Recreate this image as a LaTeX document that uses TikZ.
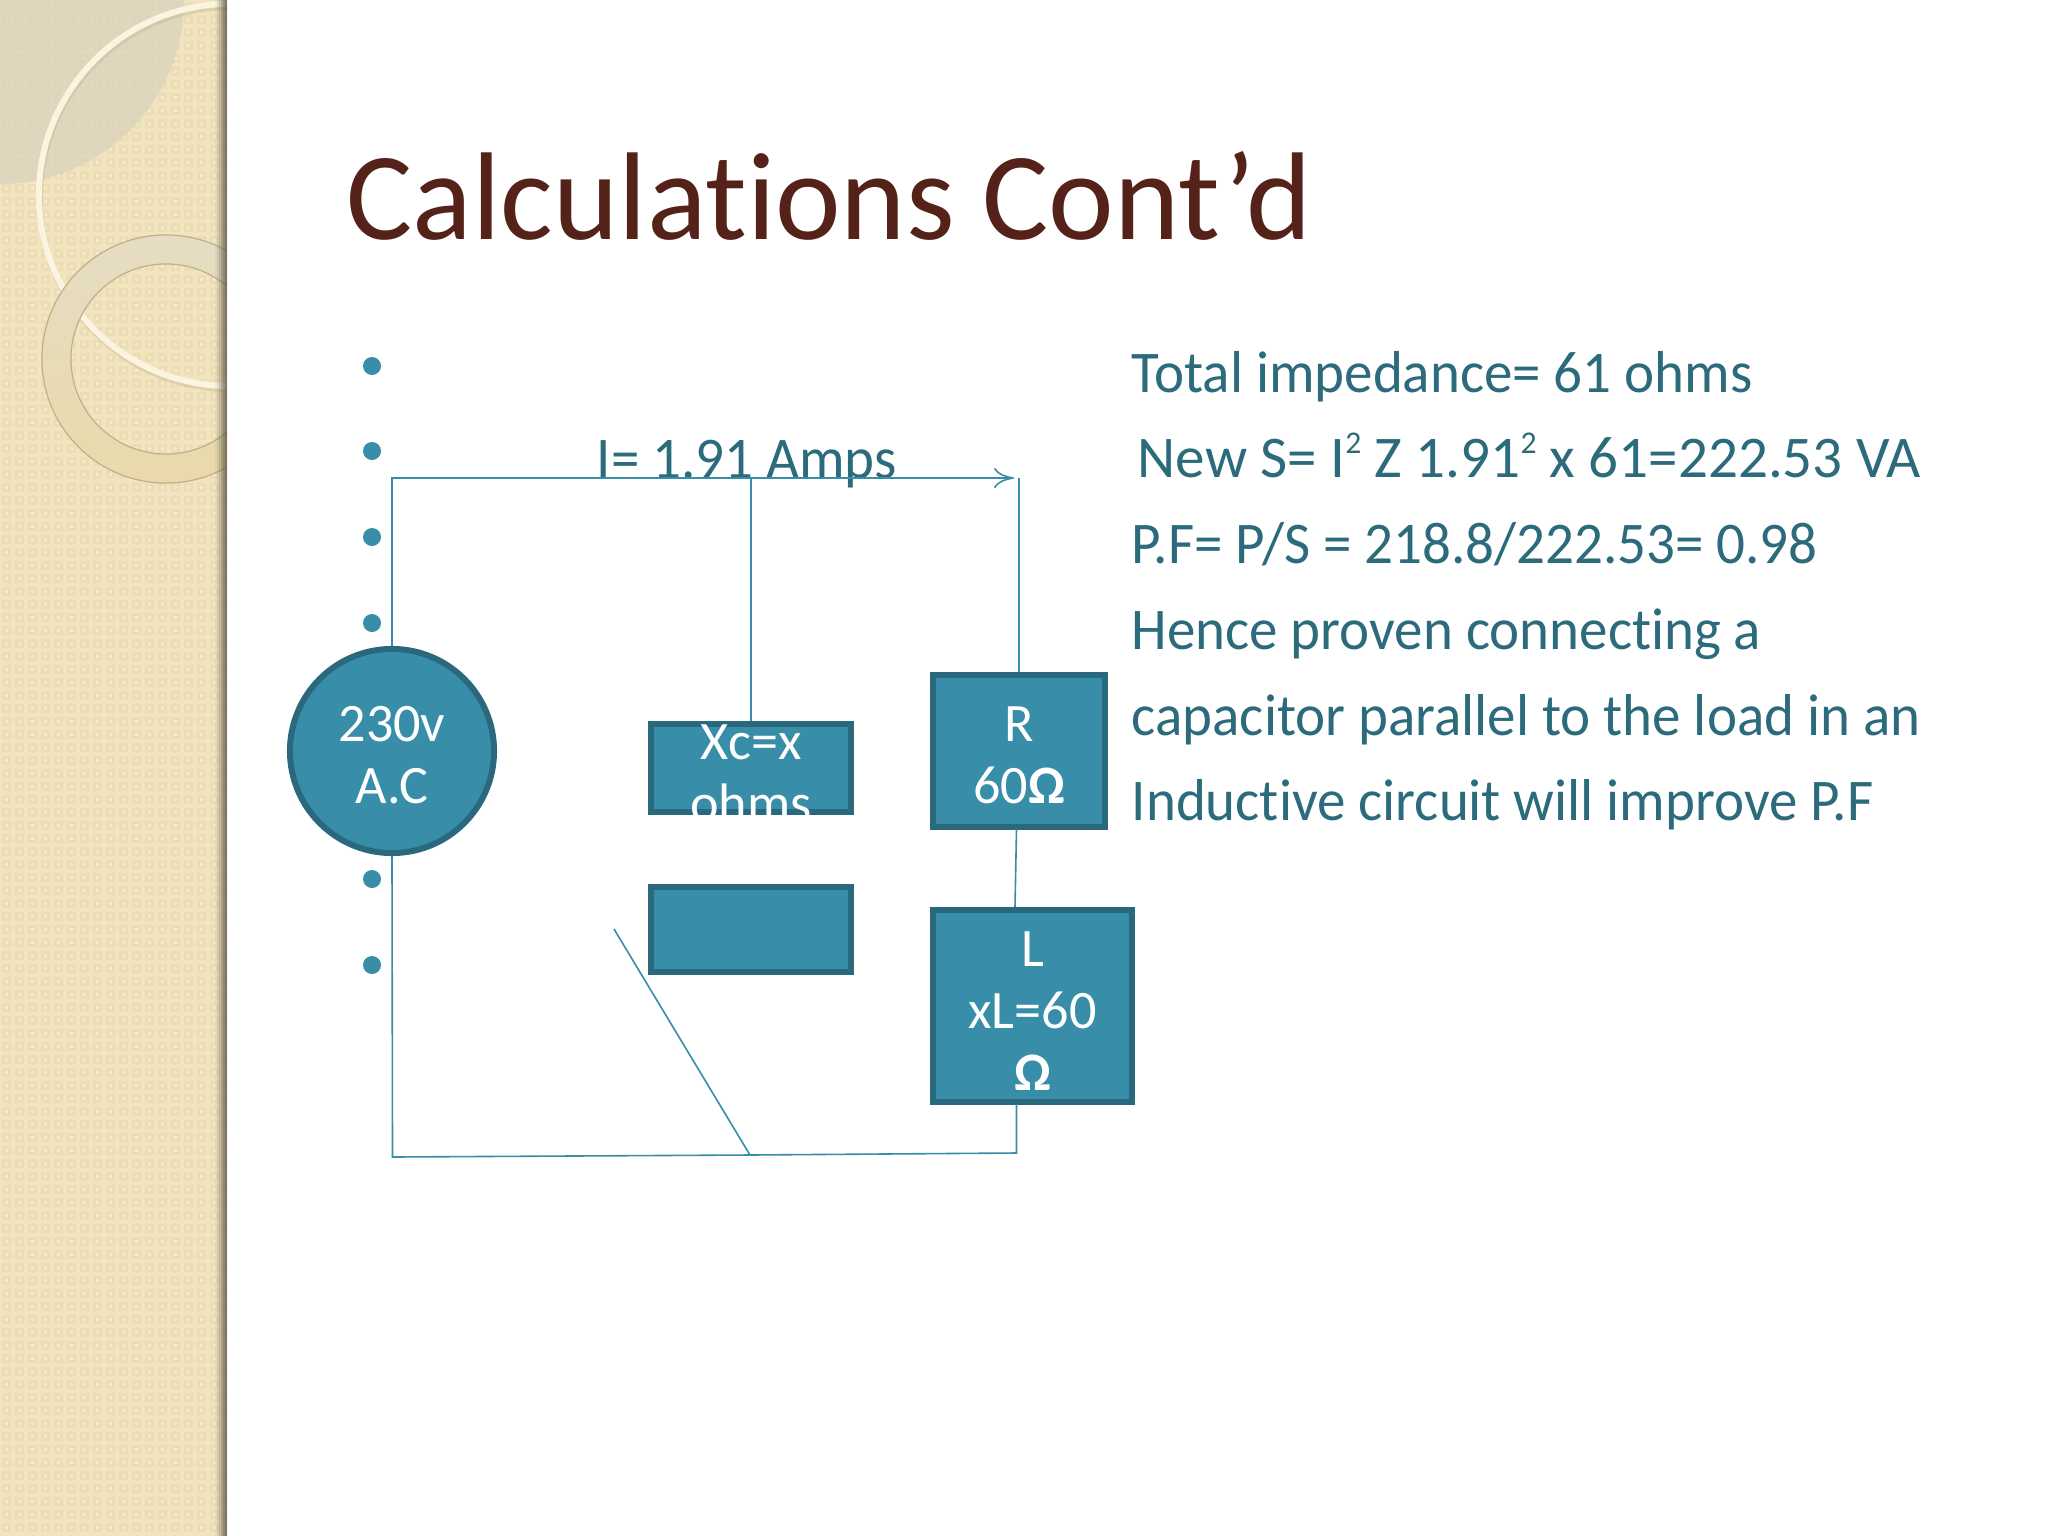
\documentclass[tikz,border=0pt]{standalone}
\usepackage{fontspec}
\usepackage{xcolor}
\setmainfont[Ligatures=NoCommon]{Carlito}
\newfontfamily\titlefont[Ligatures=NoCommon, FakeStretch=0.995]{Carlito}
\newfontfamily\bodyfont[Ligatures=NoCommon, FakeStretch=0.965]{Carlito}
\usetikzlibrary{positioning,arrows.meta}

\definecolor{panelbg}{RGB}{241,228,190}
\definecolor{paneltile}{RGB}{236,222,180}
\definecolor{paneldot}{RGB}{245,234,203}
\definecolor{ringcol}{RGB}{229,220,195}
\definecolor{ringlow}{RGB}{234,218,170}
\definecolor{ringedge}{RGB}{190,176,138}
\definecolor{hoopcol}{RGB}{251,244,224}
\definecolor{discol}{RGB}{218,211,190}
\definecolor{titlecol}{RGB}{84,34,24}
\definecolor{bodycol}{RGB}{44,107,124}
\definecolor{boxfill}{RGB}{56,142,168}
\definecolor{boxedge}{RGB}{42,104,126}

\newcommand{\sqr}{\raisebox{0.4em}{\fontsize{9}{9}\selectfont 2}}
\newcommand{\lift}{\rule{0pt}{0.44cm}}

\begin{document}
\begin{tikzpicture}[x=0.01cm, y=-0.01cm, node distance=0.7cm,
        box/.style={draw=boxedge, fill=boxfill, rectangle, line width=0.06cm, text=white, align=center, inner sep=0pt, font=\fontsize{15.4}{17.6}\selectfont},
        source/.style={box, circle, minimum size=2.04cm},
        bodytext/.style={anchor=base west, inner sep=0pt, text=bodycol, font=\bodyfont\fontsize{16.8}{20}\selectfont},
        bullet/.style={circle, fill=boxfill, inner sep=0pt, minimum size=0.18cm},
        wire/.style={draw=boxfill, line width=0.016cm},
        >={To[length=0.2cm, width=0.2cm]}
    ]
        \useasboundingbox (0,0) rectangle (2048,1536);
        \fill[white] (0,0) rectangle (2048,1536);

        % left panel
        \begin{scope}
            \clip (0,0) rectangle (227,1536);
            \fill[panelbg] (0,0) rectangle (227,1536);
            \foreach \tx in {0,...,17}
                \foreach \ty in {0,...,120} {
                    \fill[paneltile] (\tx*13+2,\ty*13+2) rectangle ++(9,9);
                    \fill[paneldot] (\tx*13+5,\ty*13+5) rectangle ++(3,3);
                }
            \fill[discol, fill opacity=0.75] (0,0) circle (1.84cm);
            \draw[ringedge, opacity=0.35, line width=0.06cm] (231,198) circle (1.91cm);
            \draw[hoopcol, line width=0.06cm] (230,195) circle (1.91cm);
            \shade[top color=ringcol, bottom color=ringlow, even odd rule] (166,359) circle (1.24cm) (166,359) circle (0.95cm);
            \draw[ringedge, line width=0.012cm] (166,359) circle (1.24cm) (166,359) circle (0.95cm);
            \foreach \sx/\so in {215/0.06,217/0.12,219/0.18,221/0.24,223/0.32,225/0.4}
                \fill[black!60!panelbg, fill opacity=\so] (\sx,0) rectangle (227,1536);
        \end{scope}

        % title
        \node[anchor=base west, inner sep=0pt, text=titlecol, font=\titlefont\fontsize{35.5}{40}\selectfont] (title) at (346,239) {Calculations Cont’d};

        % bullets
        \foreach \by [count=\bi] in {366,451,537,623,879,965}
            \node[bullet] (bullet\bi) at (372,\by) {};

        % right column
        \node[bodytext] (line1) at (1131,392) {Total impedance= 61 ohms};
        \node[bodytext, font=\rmfamily\fontsize{16.8}{20}\selectfont] (line2) at (1137,477) {New S= I\sqr{} Z 1.91\sqr{} x 61=222.53 VA};
        \node[bodytext] (line3) at (1131,563) {P.F= P/S = 218.8/222.53= 0.98};
        \node[bodytext] (line4) at (1131,649) {Hence proven connecting a};
        \node[bodytext] (line5) at (1131,735) {capacitor parallel to the load in an};
        \node[bodytext] (line6) at (1131,820) {Inductive circuit will improve P.F};

        \node[bodytext] (current) at (596,478) {I= 1.91 Amps};

        % circuit
        \node[source] (src) at (392,751) {\lift 230v\\A.C};
        \node[box, minimum width=2.0cm, minimum height=0.87cm] (capbox) at (751,768) {};
        \begin{scope}
            \clip (capbox.north west) rectangle (capbox.south east);
            \node[text=white, align=center, inner sep=0pt, font=\fontsize{15.4}{17.6}\selectfont] (caplabel) at (751,773) {Xc=x\\ohms};
        \end{scope}
        \node[box, minimum width=2.0cm, minimum height=0.85cm, below=0.69cm of capbox] (blankbox) {};
        \node[box, minimum width=1.72cm, minimum height=1.52cm] (resbox) at (1019,751) {\lift R\\60\textbf{Ω}};
        \node[box, minimum width=1.99cm, minimum height=1.92cm, below=0.77cm of resbox.south west, anchor=north west] (indbox) {\lift L\\xL=60\\\textbf{Ω}};

        \coordinate (topend) at (1014,478);
        \coordinate (resout) at (1016.5,829);
        \coordinate (indin) at (1015,907);
        \coordinate (indout) at (1016.5,1104);
        \coordinate (botright) at (1016.5,1153);
        \coordinate (botmid) at (750,1155);
        \coordinate (botleft) at (392.5,1157);
        \coordinate (swtop) at (614,929);

        \draw[wire, ->] (src.north) |- (topend);
        \draw[wire] (capbox.north) -- (capbox.north |- topend);
        \draw[wire] (resbox.north) -- (resbox.north |- topend);
        \draw[wire] (resout) -- (indin);
        \draw[wire] (indout) -- (botright) -- (botmid) -- (botleft) -- (src.south);
        \draw[wire] (swtop) -- (botmid);
    \end{tikzpicture}
\end{document}
